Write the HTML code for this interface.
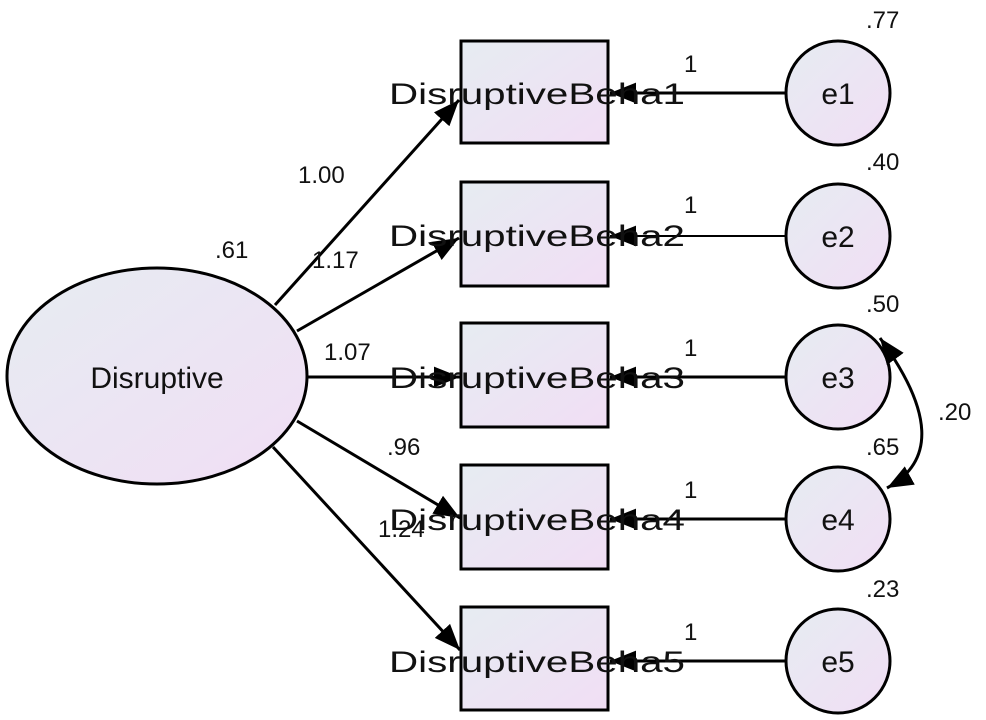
<!DOCTYPE html>
<html><head><style>body{margin:0;background:#fff}svg{display:block}</style></head><body>
<svg width="986" height="720" viewBox="0 0 986 720" xmlns="http://www.w3.org/2000/svg" font-family="Liberation Sans, Arial, sans-serif">
<defs>
<linearGradient id="g" x1="0" y1="0" x2="1" y2="1"><stop offset="0" stop-color="#e6ecf2"/><stop offset="1" stop-color="#f1def4"/></linearGradient>
<marker id="a" viewBox="0 0 10 10" refX="10" refY="5" markerWidth="9" markerHeight="9" markerUnits="userSpaceOnUse" orient="auto"><path d="M0,0L10,5L0,10z"/></marker>
<marker id="b" viewBox="0 0 10 10" refX="10" refY="5" markerWidth="26" markerHeight="26" markerUnits="userSpaceOnUse" orient="auto"><path d="M0,1L10,5L0,9z"/></marker>
</defs>
<g stroke="#000" stroke-width="3" fill="url(#g)">
<ellipse cx="157" cy="376" rx="150" ry="108"/>
<rect x="461" y="41" width="147" height="102"/>
<rect x="461" y="182" width="147" height="104"/>
<rect x="461" y="323" width="147" height="104"/>
<rect x="461" y="465" width="147" height="104"/>
<rect x="461" y="607" width="147" height="103"/>
<circle cx="838" cy="93" r="52"/>
<circle cx="838" cy="236" r="52"/>
<circle cx="838" cy="377" r="52"/>
<circle cx="838" cy="519" r="52"/>
<circle cx="838" cy="661" r="52"/>
</g>
<g stroke="#000" stroke-width="3" fill="none" marker-end="url(#b)">
<line x1="275" y1="305" x2="459" y2="100"/>
<line x1="297" y1="331" x2="459" y2="238"/>
<line x1="308" y1="377" x2="460" y2="377"/>
<line x1="297" y1="421" x2="460" y2="518"/>
<line x1="273" y1="447" x2="460" y2="650"/>
<line x1="786" y1="93" x2="610" y2="93"/>
<line x1="786" y1="236" x2="610" y2="236" stroke-width="2"/>
<line x1="786" y1="377" x2="610" y2="377"/>
<line x1="786" y1="519" x2="610" y2="519"/>
<line x1="786" y1="661" x2="610" y2="661"/>
</g>
<path d="M880,338 Q960,448 887,488" stroke="#000" stroke-width="3" fill="none" marker-end="url(#b)"/>
<path d="M887,488 Q960,448 880,338" stroke="#000" stroke-width="0" fill="none" marker-end="url(#b)"/>
<g font-size="30" text-anchor="middle" fill="#111">
<text x="157" y="388">Disruptive</text>
<text x="537" y="104" textLength="296" lengthAdjust="spacingAndGlyphs">DisruptiveBeha1</text>
<text x="537" y="246" textLength="296" lengthAdjust="spacingAndGlyphs">DisruptiveBeha2</text>
<text x="537" y="388" textLength="296" lengthAdjust="spacingAndGlyphs">DisruptiveBeha3</text>
<text x="537" y="530" textLength="296" lengthAdjust="spacingAndGlyphs">DisruptiveBeha4</text>
<text x="537" y="672" textLength="296" lengthAdjust="spacingAndGlyphs">DisruptiveBeha5</text>
<text x="838" y="104">e1</text>
<text x="838" y="247">e2</text>
<text x="838" y="388">e3</text>
<text x="838" y="530">e4</text>
<text x="838" y="672">e5</text>
</g>
<g font-size="24" fill="#111">
<text x="866" y="28">.77</text>
<text x="866" y="170">.40</text>
<text x="866" y="312">.50</text>
<text x="866" y="455">.65</text>
<text x="866" y="597">.23</text>
<text x="938" y="420">.20</text>
<text x="215" y="258">.61</text>
<text x="298" y="183">1.00</text>
<text x="312" y="268">1.17</text>
<text x="324" y="360">1.07</text>
<text x="387" y="455">.96</text>
<text x="378" y="537">1.24</text>
<text x="684" y="72">1</text>
<text x="684" y="213">1</text>
<text x="684" y="356">1</text>
<text x="684" y="498">1</text>
<text x="684" y="640">1</text>
</g>
</svg>
</body></html>
